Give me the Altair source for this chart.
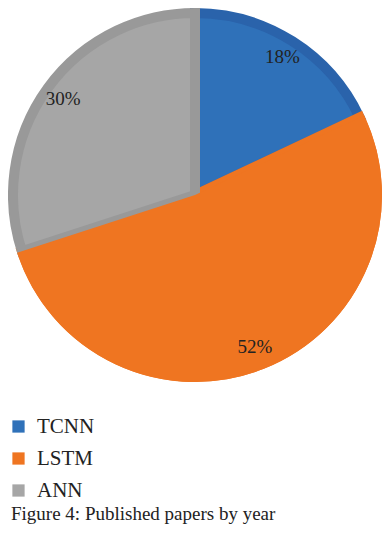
import altair as alt
import pandas as pd

models = ["TCNN", "LSTM", "ANN"]
shares = [18, 52, 30]
labels = ["18%", "52%", "30%"]

fills = ["#2f71b9", "#ef7521", "#a6a6a6"]
borders = ["#2a63ab", "#ef7521", "#999999"]

df = pd.DataFrame({"model": models, "share": shares, "label": labels,
                   "order": [0, 1, 2]})

base = alt.Chart(df).encode(
    theta=alt.Theta("share:Q", stack=True),
    order=alt.Order("order:Q"),
)

color_scale = alt.Scale(domain=models, range=fills)
stroke_scale = alt.Scale(domain=models, range=borders)

outer = base.mark_arc(radius=182, strokeWidth=10, strokeJoin="miter").encode(
    color=alt.Color("model:N", scale=color_scale, sort=models,
                    legend=alt.Legend(title=None, orient="none", legendX=0, legendY=408,
                                      padding=0,
                                      symbolType="square", symbolSize=150,
                                      symbolStrokeWidth=0,
                                      labelFont="Liberation Serif", labelFontSize=21,
                                      labelColor="#222222", labelOffset=8,
                                      rowPadding=10)),
    stroke=alt.Stroke("model:N", scale=stroke_scale, legend=None),
)

orange = base.mark_arc(radius=187, strokeWidth=0).encode(
    color=alt.Color("model:N", scale=color_scale, sort=models),
    fillOpacity=alt.condition(alt.datum.model == "LSTM", alt.value(1), alt.value(0)),
)

text = base.mark_text(radius=163, font="Liberation Serif", fontSize=19,
                      color="#222222").encode(text="label:N")

chart = alt.layer(outer, orange, text).properties(
    width=374, height=374,
    autosize=alt.AutoSizeParams(type="none"),
    title=alt.TitleParams("Figure 4: Published papers by year", orient="bottom",
                          anchor="start", offset=4, baseline="top",
                          font="Liberation Serif",
                          fontSize=19, fontWeight="normal", color="#222222", dx=18),
).configure_view(stroke=None).configure(padding={"left": 0, "top": 0, "right": 0, "bottom": 152})

chart.save("out.html", embed_options={"renderer": "svg", "actions": False})
